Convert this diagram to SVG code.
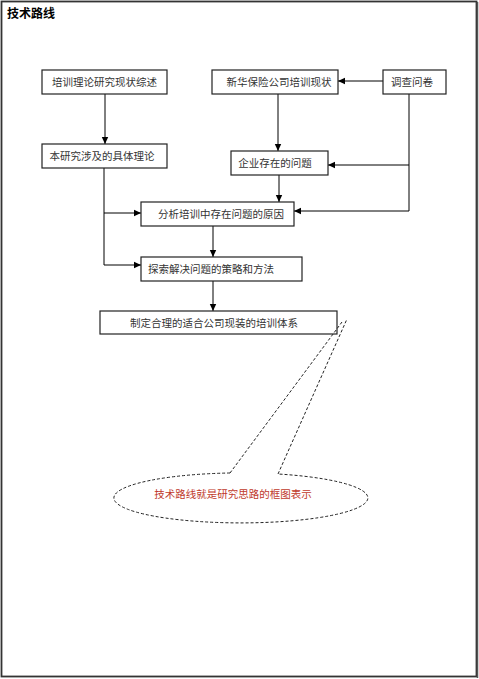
<svg xmlns="http://www.w3.org/2000/svg" width="479" height="679" viewBox="0 0 479 679">
<defs>
<marker id="ah" markerWidth="8" markerHeight="8" refX="7" refY="4" orient="auto" markerUnits="userSpaceOnUse">
<path d="M0,0.8 L7,4 L0,7.2 Z" fill="#000"/>
</marker>
<style>
.box{fill:#fff;stroke:#222;stroke-width:1.2}
.t{font-family:"Noto Sans CJK SC","Liberation Serif",serif;font-size:10.5px;fill:#333;text-anchor:middle}
.c{fill:none;stroke:#000;stroke-width:1}
.d{fill:none;stroke:#222;stroke-width:1;stroke-dasharray:3,2}
</style>
</defs>
<rect width="479" height="679" fill="#fff"/>
<rect x="1.5" y="1.5" width="475" height="675" fill="none" stroke="#333" stroke-width="1.8"/>
<line x1="477.5" y1="2" x2="477.5" y2="678" stroke="#555" stroke-width="1.5"/>
<text x="7" y="18" style="font-family:'Noto Sans CJK SC','Liberation Sans',sans-serif;font-size:12px;font-weight:bold;fill:#000">技术路线</text>

<g id="connectors">
<line class="c" x1="105" y1="94" x2="105" y2="144" marker-end="url(#ah)"/>
<line class="c" x1="383" y1="81" x2="338" y2="81" marker-end="url(#ah)"/>
<line class="c" x1="278" y1="94" x2="278" y2="151" marker-end="url(#ah)"/>
<polyline class="c" points="409,94 409,211 294,211" marker-end="url(#ah)"/>
<line class="c" x1="409" y1="165" x2="328" y2="165" marker-end="url(#ah)"/>
<line class="c" x1="279" y1="175" x2="279" y2="202" marker-end="url(#ah)"/>
<polyline class="c" points="104,168 104,265 141,265" marker-end="url(#ah)"/>
<line class="c" x1="104" y1="213" x2="141" y2="213" marker-end="url(#ah)"/>
<line class="c" x1="213" y1="226" x2="213" y2="257" marker-end="url(#ah)"/>
<line class="c" x1="213" y1="281" x2="213" y2="311" marker-end="url(#ah)"/>
</g>

<g id="n1"><rect class="box" x="42" y="70" width="125" height="24"/><text class="t" x="104.5" y="86">培训理论研究现状综述</text></g>
<g id="n2"><rect class="box" x="42" y="144" width="125" height="24"/><text class="t" x="102" y="160">本研究涉及的具体理论</text></g>
<g id="n3"><rect class="box" x="212" y="70" width="126" height="24"/><text class="t" x="279" y="86">新华保险公司培训现状</text></g>
<g id="n4"><rect class="box" x="383" y="70" width="63" height="24"/><text class="t" x="412" y="86">调查问卷</text></g>
<g id="n5"><rect class="box" x="231" y="151" width="97" height="24"/><text class="t" x="275" y="167">企业存在的问题</text></g>
<g id="n6"><rect class="box" x="141" y="202" width="153" height="24"/><text class="t" x="221" y="218">分析培训中存在问题的原因</text></g>
<g id="n7"><rect class="box" x="141" y="257" width="161" height="24"/><text class="t" x="211" y="273">探索解决问题的策略和方法</text></g>
<g id="n8"><rect class="box" x="100" y="311" width="237" height="23"/><text class="t" x="214" y="327">制定合理的适合公司现装的培训体系</text></g>

<g id="callout">
<path class="d" d="M230,473 A127,25 0 1 0 278,474"/>
<line class="d" x1="230" y1="473" x2="342" y2="322"/>
<line class="d" x1="278" y1="474" x2="347" y2="319"/>
<text x="233" y="498" style="font-family:'Noto Sans CJK SC','Liberation Serif',serif;font-size:10.5px;fill:#c0392b;text-anchor:middle">技术路线就是研究思路的框图表示</text>
</g>
</svg>
